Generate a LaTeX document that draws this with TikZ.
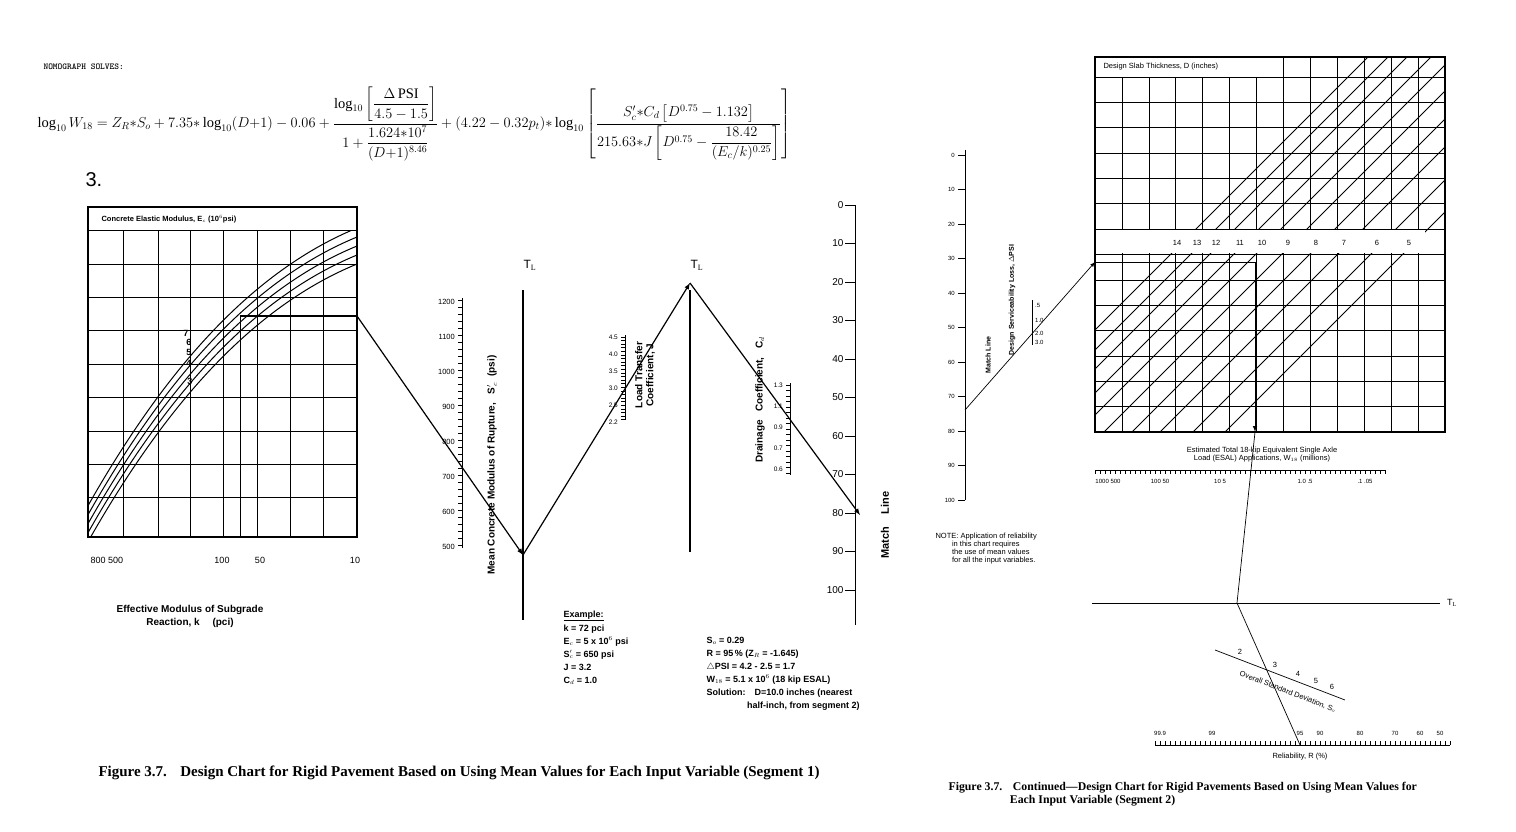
\documentclass[tikz,border=0pt]{standalone}
\usepackage{amsmath}
\usepackage{fontspec}
\setmainfont{Liberation Serif}
\newfontfamily\lab{Liberation Sans}
\begin{document}
\begin{tikzpicture}[x=1pt,y=-1pt,
  ln/.style={line width=1.2pt,black},
  thin/.style={line width=0.7pt},
  tl/.style={font=\lab\fontsize{12}{13}\selectfont,inner sep=1pt},
  tk/.style={font=\lab\fontsize{7.5}{8}\selectfont,inner sep=1pt},
  figcap/.style={font=\bfseries\fontsize{12.5}{14}\selectfont,anchor=west,align=left}]
\fill[white] (0,0) rectangle (1516,832);
\useasboundingbox (0,0) rectangle (1516,832);
% formula
\node[anchor=west,font=\ttfamily\bfseries\fontsize{9}{10}\selectfont] at (40,67) {NOMOGRAPH SOLVES:};
\node[anchor=west,font=\fontsize{14.5}{16}\selectfont] at (34,124) {$\log_{10}W_{18}=Z_R{*}S_o+7.35{*}\log_{10}(D{+}1)-0.06+\dfrac{\log_{10}\left[\dfrac{\Delta\,\mathrm{PSI}}{4.5-1.5}\right]}{1+\dfrac{1.624{*}10^7}{(D{+}1)^{8.46}}}+(4.22-0.32p_t){*}\log_{10}\left[\dfrac{S_c'{*}C_d\left[D^{0.75}-1.132\right]}{215.63{*}J\left[D^{0.75}-\dfrac{18.42}{(E_c/k)^{0.25}}\right]}\right]$};
\node[anchor=west,font=\lab\fontsize{20}{22}\selectfont] at (82,180) {3.};
% left chart
\begin{scope}[thin]
\draw[line width=1.2pt] (88,207) rectangle (357,537);
\foreach \x in {123,158,190,223,257,290,323} \draw (\x,230)--(\x,537);
\foreach \y in {230,264,297,330,364,397,431,464,497} \draw (88,\y)--(357,\y);
\clip (88,230) rectangle (357,537);
\foreach \d in {0,9,18,27,36}
  \draw[line width=1pt,yshift=-\d] (80,520) .. controls (160,375) and (250,270) .. (362,226);
\end{scope}
\node[anchor=west,font=\lab\bfseries\fontsize{7.5}{8}\selectfont] at (98,219) {Concrete Elastic Modulus, E$_c$ (10$^6$psi)};
\foreach \t/\x/\y in {7/186/333,6/189/342,5/189/352,4/189/363,3/190/381}
  \node[font=\lab\bfseries\fontsize{9}{9}\selectfont,inner sep=0pt] at (\x,\y) {\t};
\foreach \t/\x in {800 500/107,100/222,50/260,10/355}
  \node[font=\lab\fontsize{9}{10}\selectfont] at (\x,560) {\t};
\node[font=\lab\bfseries\fontsize{10}{13}\selectfont,align=center] at (190,616) {Effective Modulus of Subgrade\\Reaction, k \quad (pci)};
% TL lines
\draw[ln] (523,290)--(523,620);
\draw[ln] (690,290)--(690,552);
\node[tl] at (530,265) {T$_\mathrm{L}$};
\node[tl] at (697,265) {T$_\mathrm{L}$};
% Sc scale
\draw[thin] (462,298)--(462,548);
\foreach \i in {0,...,35} \draw[thin] (462,{300+\i*7})--(458,{300+\i*7});
\foreach \t [count=\i from 0] in {1200,1100,1000,900,800,700,600,500}
  \node[tk,anchor=east] at (456,{302+\i*35}) {\t};
\node[rotate=90,font=\lab\bfseries\fontsize{10}{11}\selectfont] at (492,465) {Mean Concrete Modulus of Rupture,\;\; S$^{\prime}_{\,c}$ \;(psi)};
% J scale
\draw[thin] (625,335)--(625,420);
\foreach \i in {0,...,23} \draw[thin] (625,{337+\i*3.6})--(621,{337+\i*3.6});
\foreach \t [count=\i from 0] in {4.5,4.0,3.5,3.0,2.5,2.2}
  \node[tk,anchor=east,font=\lab\fontsize{6.5}{7}\selectfont] at (619,{337+\i*17}) {\t};
\node[rotate=90,font=\lab\bfseries\fontsize{10}{11}\selectfont,align=center] at (645,375) {Load Transfer\\Coefficient, J};
% Cd scale
\draw[thin] (790,383)--(790,475);
\foreach \i in {0,...,16} \draw[thin] (790,{385+\i*5.5})--(786,{385+\i*5.5});
\foreach \t [count=\i from 0] in {1.3,1.1,0.9,0.7,0.6}
  \node[tk,anchor=east,font=\lab\fontsize{6.5}{7}\selectfont] at (784,{385+\i*21}) {\t};
\node[rotate=90,font=\lab\bfseries\fontsize{10}{11}\selectfont] at (760,400) {Drainage\;\; Coefficient,\;\; C$_d$};
% Match line scale
\draw[thin] (855,205)--(855,625);
\foreach \i in {0,...,10} {
  \draw[thin] (845,{205+\i*38.5})--(855,{205+\i*38.5});
  \node[font=\lab\fontsize{10}{11}\selectfont,anchor=east] at (847,{205+\i*38.5}) {\pgfmathparse{int(\i*10)}\pgfmathresult};}
\node[rotate=90,font=\lab\bfseries\fontsize{11}{12}\selectfont] at (885,525) {Match\;\;\; Line};
% example
\node[anchor=north west,font=\lab\bfseries\fontsize{9}{13}\selectfont,align=left] (ex) at (560,607) {\underline{Example:}\\[1pt] k = 72 pci\\ E$_c$ = 5 x 10$^6$ psi\\ S$^\prime_c$ = 650 psi\\ J = 3.2\\ C$_d$ = 1.0};
\node[anchor=north west,font=\lab\bfseries\fontsize{9}{13}\selectfont,align=left] at (703,634) {S$_o$ = 0.29\\ R = 95\,\% (Z$_R$ = -1.645)\\ $\triangle$PSI = 4.2 - 2.5 = 1.7\\ W$_{18}$ = 5.1 x 10$^6$ (18 kip ESAL)\\ Solution: \; D=10.0 inches (nearest\\ \hspace{4.5em}half-inch, from segment 2)};
% solution path seg 1
\coordinate (a0) at (240,316); \coordinate (a1) at (357,316);
\coordinate (a2) at (523,555); \coordinate (a3) at (690,283);
\coordinate (a4) at (860,515);
\draw[thin] (240,316)--(240,537);
\draw[ln] (a0)--(a1);
\draw[ln,-latex] (a1)--(a2);
\draw[ln,-latex] (a2)--(a3);
\draw[ln,-latex] (a3)--(a4);
\node[figcap,font=\bfseries\fontsize{15}{16}\selectfont] at (95,773) {Figure 3.7.\;\; Design Chart for Rigid Pavement Based on Using Mean Values for Each Input Variable (Segment 1)};
% right chart
\begin{scope}[thin]
\foreach \k in {1,...,12} \draw ({1095+\k*26.92},77)--({1095+\k*26.92},432);
\foreach \k in {7,...,12} \draw ({1095+\k*26.92},57)--({1095+\k*26.92},77);
\foreach \j in {0,...,13} \draw (1095,{77+\j*25.36})--(1445,{77+\j*25.36});
\begin{scope}
\clip (1095,57) rectangle (1445,432);
\foreach \xl in {1177,1197,1216,1240,1262,1288,1316,1344,1377,1409}
  \draw[line width=0.8pt] ({\xl+8-220},460)--({\xl+8+220},20);
\end{scope}
\fill[white] (1096,230) rectangle (1425,253);
\draw[line width=1.2pt] (1095,57) rectangle (1445,432);
\end{scope}
\node[anchor=west,font=\lab\fontsize{7.5}{8}\selectfont] at (1100,67) {Design Slab Thickness, D (inches)};
\foreach \t/\x in {14/1177,13/1197,12/1216,11/1240,10/1262,9/1288,8/1316,7/1344,6/1377,5/1409}
  \node[tk,inner sep=0.5pt] at (\x,243) {\t};
\node[font=\lab\fontsize{7.5}{8}\selectfont,align=center] at (1262,455) {Estimated Total 18-kip Equivalent Single Axle\\Load (ESAL) Applications, W$_{18}$ (millions)};
\draw[thin] (1095,470)--(1385,470);
\foreach \i in {0,...,58} \draw[thin] ({1095+\i*5},470)--({1095+\i*5},474);
\foreach \t/\x in {1000 500/1108,100 50/1160,10 5/1220,1.0 .5/1305,.1 .05/1365}
  \node[tk,font=\lab\fontsize{6}{7}\selectfont] at (\x,481) {\t};
% dPSI scale
\draw[thin] (965,150)--(965,500);
\foreach \i in {0,...,10} {
  \draw[thin] (965,{155+\i*34.5})--(958,{155+\i*34.5});
  \node[tk,anchor=east,font=\lab\fontsize{6}{7}\selectfont] at (956,{155+\i*34.5}) {\pgfmathparse{int(\i*10)}\pgfmathresult};}
\node[rotate=90,font=\lab\bfseries\fontsize{7}{8}\selectfont] at (988,355) {Match Line};
\node[rotate=90,font=\lab\bfseries\fontsize{7}{8}\selectfont] at (1012,300) {Design Serviceability Loss, $\Delta$PSI};
\draw[thin] (1032,300)--(1032,345);
\foreach \t/\y in {.5/305,1.0/320,2.0/333,3.0/342} \node[tk,anchor=west,font=\lab\fontsize{6}{7}\selectfont] at (1034,\y) {\t};
\node[anchor=north west,font=\lab\fontsize{7.5}{8}\selectfont,align=left] at (932,530) {NOTE: Application of reliability\\ \hspace{2.2em}in this chart requires\\ \hspace{2.2em}the use of mean values\\ \hspace{2.2em}for all the input variables.};
% TL and reliability
\draw[thin] (1092,603)--(1440,603);
\node[tk,font=\lab\fontsize{9}{10}\selectfont] at (1452,603) {T$_\mathrm{L}$};
\draw[thin] (1215,650)--(1345,700);
\foreach \t/\x in {2/1240,3/1275,4/1298,5/1316,6/1332} \node[tk] at (\x,{650+(\x-1215)*0.385-8}) {\t};
\node[rotate=-21,font=\lab\fontsize{7.5}{8}\selectfont] at (1288,692) {Overall Standard Deviation, S$_o$};
\draw[thin] (1155,745)--(1450,745);
\foreach \i in {0,...,59} \draw[thin] ({1155+\i*5},745)--({1155+\i*5},741);
\foreach \t/\x in {99.9/1160,99/1212,95/1300,90/1320,80/1360,70/1395,60/1420,50/1440}
  \node[tk,font=\lab\fontsize{6}{7}\selectfont] at (\x,733) {\t};
\node[tk] at (1300,757) {Reliability, R (\%)};
% path seg 2
\coordinate (b0) at (965,410); \coordinate (b1) at (1095,262);
\coordinate (b2) at (1255,262); \coordinate (b3) at (1255,432);
\coordinate (b4) at (1237,603); \coordinate (b5) at (1300,745);
\draw[thin,-latex] (b0)--(b1);
\draw[thin] (b1)--(b2);
\draw[line width=1pt,-latex] (b2)--(b3);
\draw[thin] (b3)--(b4)--(b5);
\node[figcap,font=\bfseries\fontsize{11.8}{13}\selectfont] at (945,794) {Figure 3.7.\;\; Continued---Design Chart for Rigid Pavements Based on Using Mean Values for\\ \hspace{5.2em}Each Input Variable (Segment 2)};
\end{tikzpicture}
\end{document}
